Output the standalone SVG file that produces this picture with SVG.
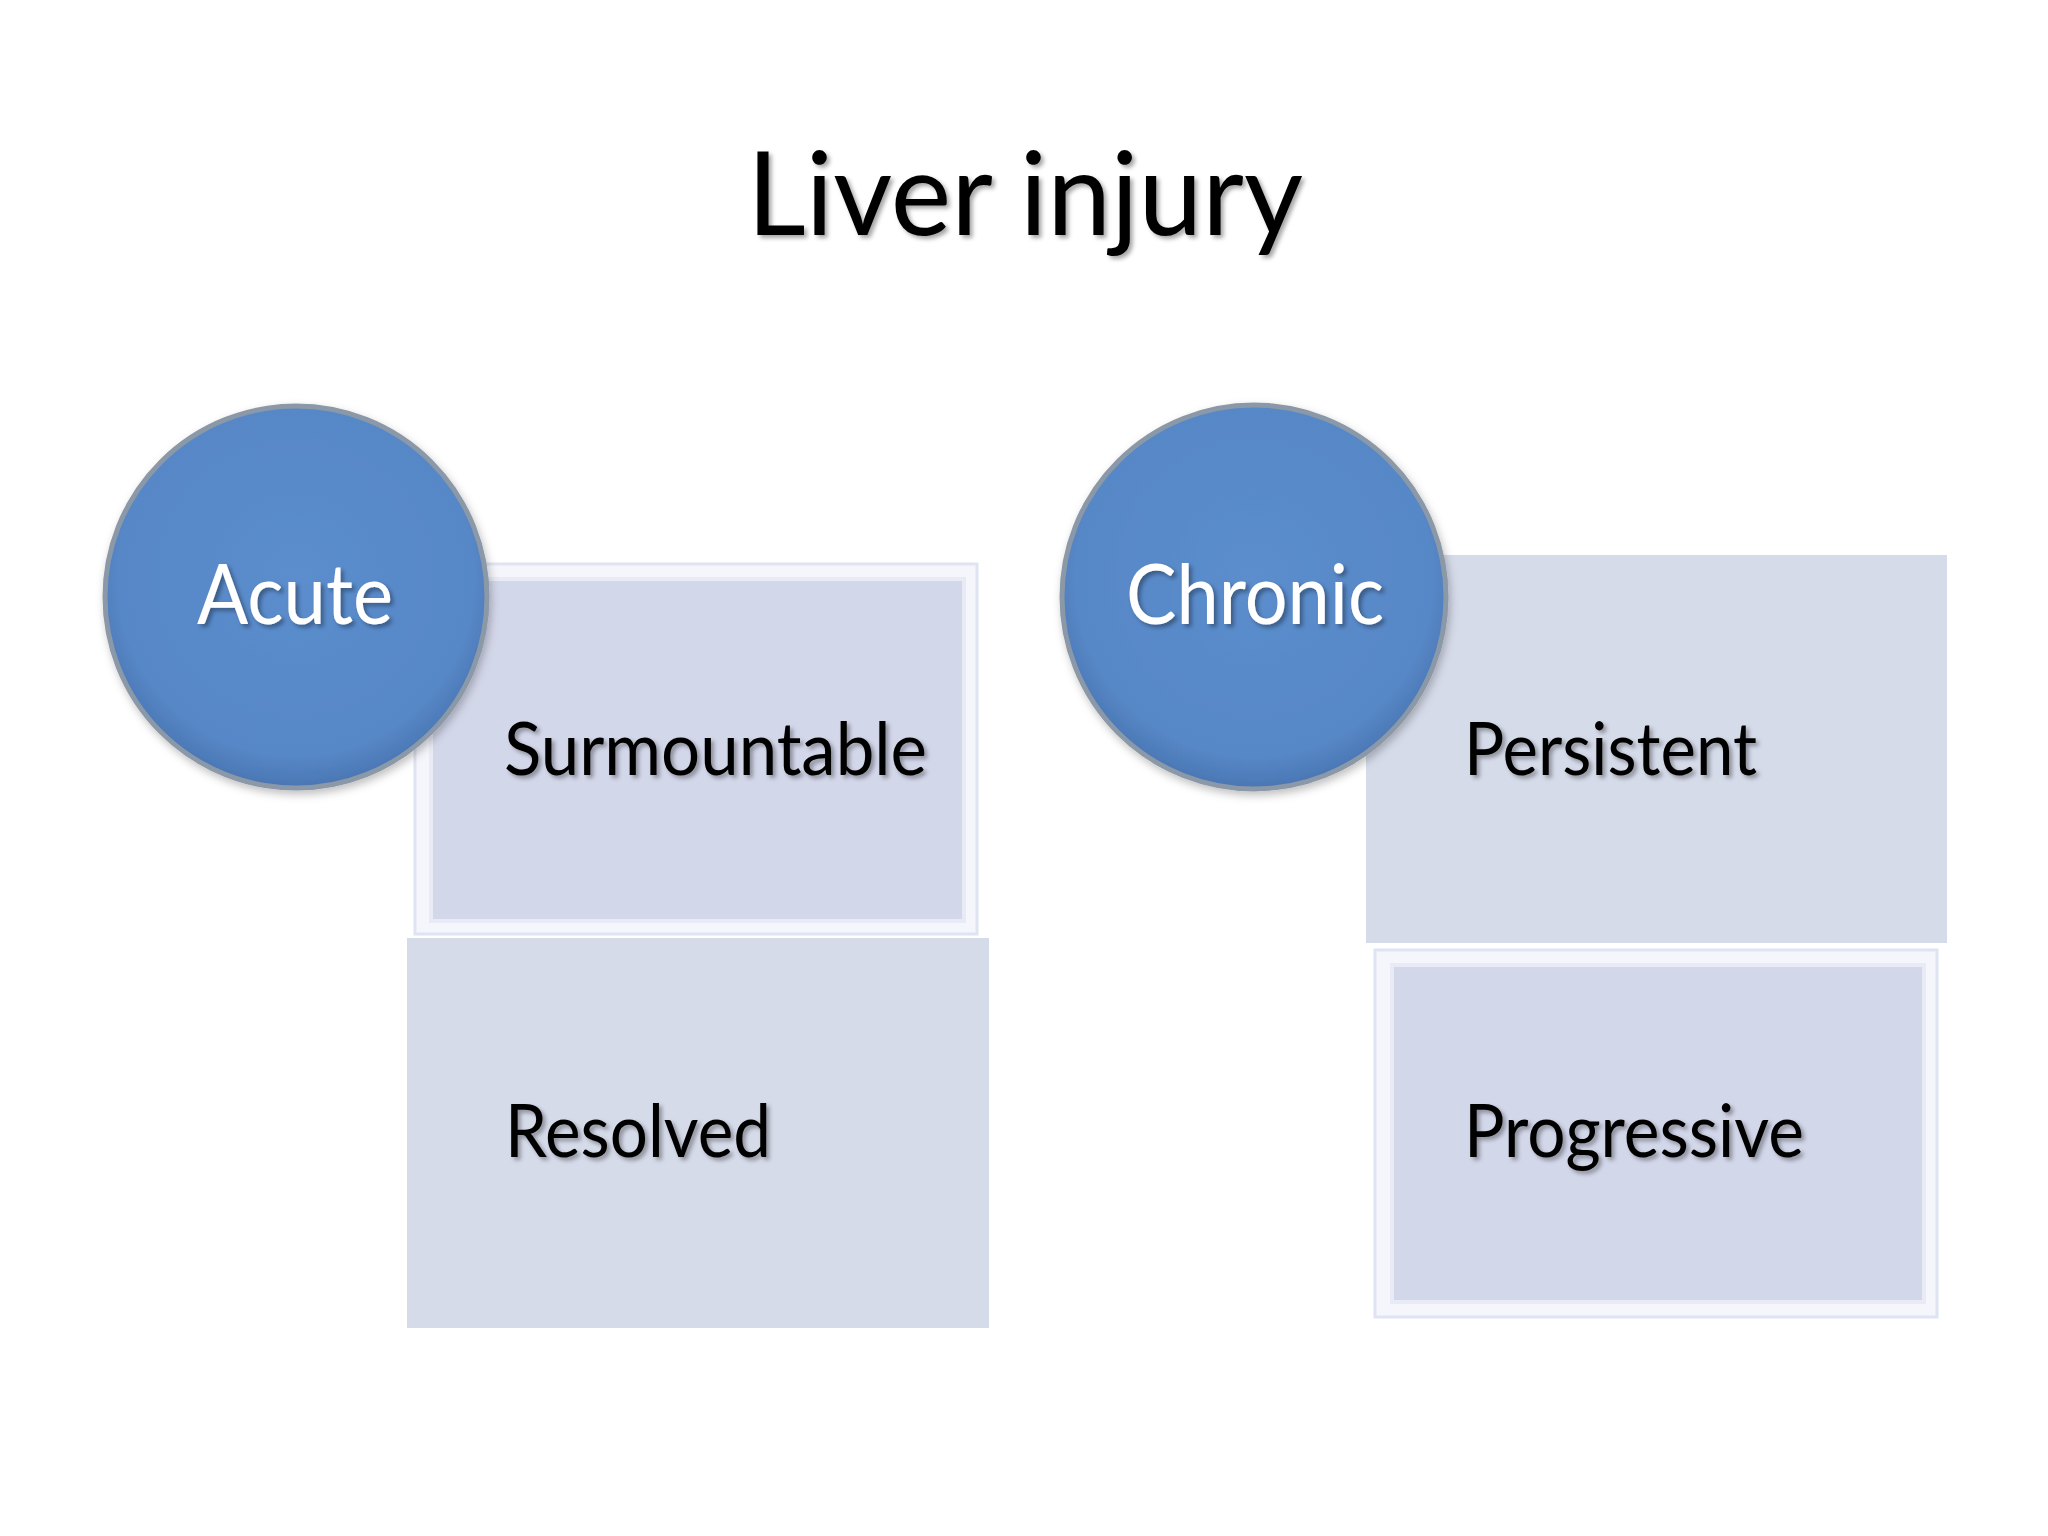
<svg xmlns="http://www.w3.org/2000/svg" width="2048" height="1536" viewBox="0 0 2048 1536">
  <defs>
    <filter id="txtShadow" x="-10%" y="-20%" width="130%" height="150%">
      <feDropShadow dx="3" dy="3" stdDeviation="2" flood-color="#000" flood-opacity="0.35"/>
    </filter>
    <filter id="circShadow" x="-20%" y="-20%" width="140%" height="140%">
      <feDropShadow dx="2" dy="4" stdDeviation="4" flood-color="#000" flood-opacity="0.25"/>
    </filter>
    <radialGradient id="circFill" cx="50%" cy="45%" r="55%">
      <stop offset="0" stop-color="#5b8dcd"/>
      <stop offset="0.85" stop-color="#5787c6"/>
      <stop offset="1" stop-color="#4a76b3"/>
    </radialGradient>
    <style>
      .title { font-family: Lato, "Liberation Sans", sans-serif; font-size: 116px; fill: #000; filter: url(#txtShadow); }
      .ctext { font-family: Lato, "Liberation Sans", sans-serif; font-size: 84px; fill: #fff; filter: url(#txtShadow); }
      .btext { font-family: Lato, "Liberation Sans", sans-serif; font-size: 74px; fill: #000; filter: url(#txtShadow); }
      .circle { fill: url(#circFill); stroke: #8a98a8; stroke-width: 5; filter: url(#circShadow); }
      .box { fill: #d6dbea; }
      .frame { fill: #f4f6fc; stroke: #dfe4f2; stroke-width: 3; }
      .inner { fill: #d3d7ea; stroke: #e8ebf6; stroke-width: 4; }
    </style>
  </defs>
  <rect width="2048" height="1536" fill="#ffffff"/>

  <text class="title" x="1025" y="235" text-anchor="middle" textLength="556" lengthAdjust="spacingAndGlyphs">Liver injury</text>

  <g id="connectors"/>

  <g id="surmountable">
    <rect class="frame" x="415" y="564" width="562" height="370"/>
    <rect class="inner" x="431" y="579" width="533" height="342"/>
    <text class="btext" x="504" y="775" textLength="423" lengthAdjust="spacingAndGlyphs">Surmountable</text>
  </g>

  <g id="resolved">
    <rect class="box" x="407" y="938" width="582" height="390"/>
    <text class="btext" x="505" y="1157" textLength="266" lengthAdjust="spacingAndGlyphs">Resolved</text>
  </g>

  <g id="acute">
    <circle class="circle" cx="296" cy="597" r="191"/>
    <text class="ctext" x="295" y="624" text-anchor="middle" textLength="196" lengthAdjust="spacingAndGlyphs">Acute</text>
  </g>

  <g id="persistent">
    <rect class="box" x="1366" y="555" width="581" height="388"/>
    <text class="btext" x="1464" y="775" textLength="293" lengthAdjust="spacingAndGlyphs">Persistent</text>
  </g>

  <g id="progressive">
    <rect class="frame" x="1375" y="950" width="562" height="367"/>
    <rect class="inner" x="1392" y="965" width="532" height="337"/>
    <text class="btext" x="1464" y="1157" textLength="340" lengthAdjust="spacingAndGlyphs">Progressive</text>
  </g>

  <g id="chronic">
    <circle class="circle" cx="1254" cy="597" r="192"/>
    <text class="ctext" x="1255" y="624" text-anchor="middle" textLength="258" lengthAdjust="spacingAndGlyphs">Chronic</text>
  </g>
</svg>
